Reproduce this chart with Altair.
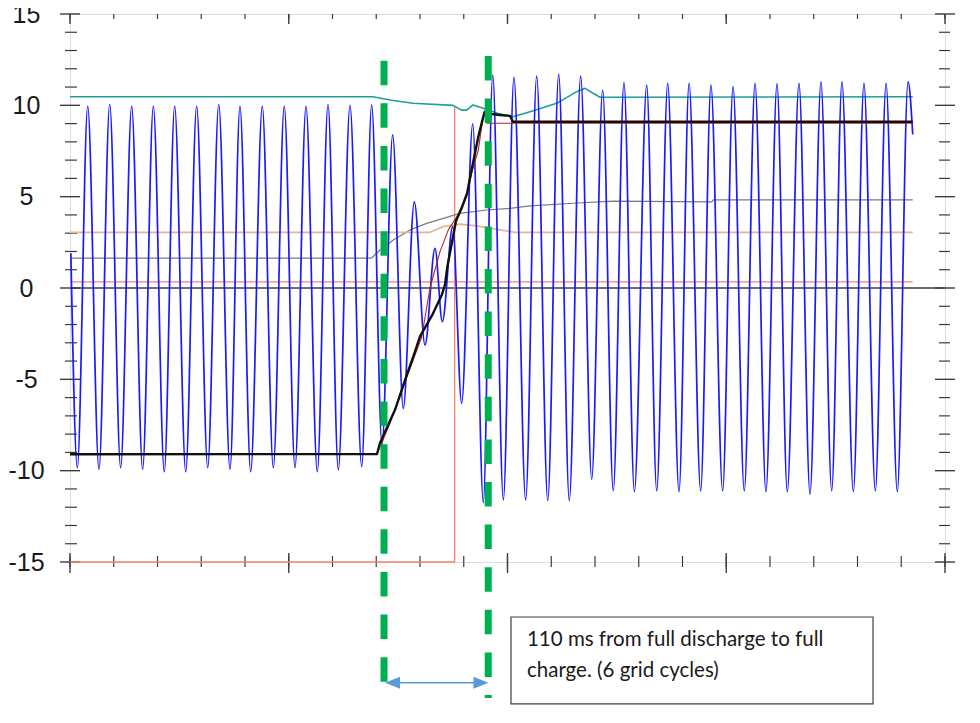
import altair as alt
import pandas as pd

# ---------------- data (time in ms, value in V) ----------------
BLUE_T = [0.8, 6.7, 16.2, 26.5, 36.3, 46.3, 56.4, 66.4, 76.2, 86.2, 95.7, 105.8, 115.8,
          125.9, 136.0, 146.3, 155.4, 165.2, 175.8, 185.9, 195.9, 205.7, 215.8, 226.1,
          235.9, 245.3, 256.0, 266.7, 275.8, 285.3, 295.0, 304.7, 314.8, 324.6, 333.7,
          340.4, 349.9, 358.1, 368.2, 377.9, 386.5, 396.2, 405.9, 416.6, 426.7, 436.8,
          446.8, 456.5, 466.9, 477.0, 487.0, 496.7, 506.5, 516.0, 527.3, 536.4, 546.5,
          556.8, 566.0, 576.6, 586.0, 596.7, 606.2, 616.5, 626.3, 636.3, 646.4, 655.8,
          666.5, 676.6, 686.6, 696.4, 705.8, 716.2, 725.9, 736.3, 746.1, 756.4, 766.2, 770.5]
BLUE_V = [1.9, -9.84, 9.96, -9.93, 10.06, -9.84, 9.96, -9.93, 9.96, -10.06, 9.96, -10.06, 9.96,
          -9.84, 10.06, -9.93, 9.96, -10.06, 9.96, -9.84, 9.96, -9.84, 9.96, -10.06,
          10.06, -9.96, 10.0, -9.78, 10.02, -8.6, 8.38, -6.59, 4.72, -3.12, 2.17,
          -1.84, 3.36, -6.31, 8.98, -11.75, 11.66, -11.6, 11.53, -11.6, 11.6, -11.64,
          11.7, -11.64, 11.6, -10.47, 10.84, -11.1, 11.24, -11.15, 11.11, -11.1, 11.2,
          -11.15, 11.2, -11.1, 11.11, -11.1, 11.02, -11.1, 11.2, -11.15, 11.17, -11.15,
          11.2, -11.28, 11.29, -11.1, 11.28, -11.15, 11.2, -11.1, 11.2, -11.15, 11.28, 8.4]

BLACK_T = [0, 280.7, 283.4, 288.0, 297.1, 306.3, 315.4, 320.0, 331.0, 340.1, 342.9, 345.0,
           352.9, 358.1, 363.0, 365.7, 373.3, 377.9, 379.4, 384.0, 393.1, 402.3, 405.0, 770.5]
BLACK_V = [-9.1, -9.09, -8.5, -7.87, -6.68, -5.04, -3.49, -2.65, -1.5, -0.35, 0.2, 1.17,
           3.67, 4.38, 5.18, 6.02, 8.28, 9.38, 9.65, 9.53, 9.47, 9.42, 9.1, 9.1]

RED_T = [0, 280.7, 292.6, 306.0, 321.6, 329.1, 338.3, 345.9, 353.6, 362.7, 367.3, 373.3,
         376.4, 378.5, 381.3, 770.5]
RED_V = [-9.1, -9.09, -7.4, -5.2, -2.67, 0.0, 1.99, 3.18, 3.9, 5.0, 6.3, 7.55,
         8.83, 9.65, 9.02, 9.02]

TEAL_T = [0, 277.0, 292.6, 313.6, 350.2, 358.1, 362.7, 368.5, 377.9, 391.3, 405.0, 420.6,
          445.0, 463.3, 470.9, 478.2, 484.6, 770.5]
TEAL_V = [10.47, 10.47, 10.29, 10.11, 10.0, 9.74, 9.74, 10.02, 9.84, 9.55, 9.38, 9.65,
          10.11, 10.75, 10.93, 10.66, 10.44, 10.47]

GRAY_T = [0, 275.8, 283.4, 295.6, 310.9, 326.1, 344.4, 356.6, 381.0, 402.3, 420.6, 459.9,
          496.5, 587.0, 587.9, 770.5]
GRAY_V = [1.64, 1.64, 2.08, 2.63, 3.18, 3.54, 3.87, 4.09, 4.27, 4.36, 4.5, 4.64,
          4.76, 4.72, 4.82, 4.82]

TAN_T = [0, 329.1, 341.3, 356.6, 371.8, 393.1, 406.9, 770.5]
TAN_V = [3.05, 3.05, 3.36, 3.5, 3.4, 3.18, 3.05, 3.05]

SALMON_FLAT_T = [0, 770.5]
SALMON_FLAT_V = [0.34, 0.34]
SALMON_STEP_T = [0, 351.7, 351.7]
SALMON_STEP_V = [-15, -15, 9.93]

# annotation (green markers, arrow, text box) in data coordinates
GREEN_T = [287.1, 382.4]
GREEN_TOP = [12.44, 12.70]
GREEN_BOTTOM = [-21.57, -22.45]
ARROW_T = [288.0, 382.6]
ARROW_V = -21.61
BOX_T = [403.2, 734.2]
BOX_V = [-18.01, -22.77]
NOTE_LINES = ["110 ms from full discharge to full", "charge. (6 grid cycles)"]
NOTE_T = 417.8
NOTE_V = [-19.6, -21.28]

# axis ticks
Y_LABELS = [-15, -10, -5, 0, 5, 10, 15]
Y_MINOR = [v for v in range(-15, 16) if v % 5 != 0]
X_MINOR = list(range(0, 801, 40))
X_MAJOR = [0, 200, 400, 600, 800]

# ---------------- chart ----------------
xs = alt.Scale(domain=[0, 800], nice=False, zero=False)
ys = alt.Scale(domain=[-15, 15], nice=False, zero=False)
yaxis = alt.Axis(values=Y_LABELS, labelFont="Liberation Sans", labelFontSize=25,
                 labelColor="#1a1a1a", labelAlign="center", labelPadding=44,
                 labelExpr="'' + datum.value",
                 tickSize=0, ticks=False, domain=False, grid=False, title=None,
                 labelOverlap=False)


def X(field="t"):
    return alt.X(f"{field}:Q", scale=xs, axis=None)


def Y(field="v"):
    return alt.Y(f"{field}:Q", scale=ys, axis=yaxis)


def series(ts, vs):
    return pd.DataFrame({"t": ts, "v": vs, "i": list(range(len(ts)))})


def line(ts, vs, color, width, interp="linear"):
    return alt.Chart(series(ts, vs)).mark_line(
        color=color, strokeWidth=width, interpolate=interp, strokeJoin="round"
    ).encode(x=X(), y=Y(), order="i:Q")


AX = "#3c3c3c"

zero_line = alt.Chart(pd.DataFrame({"v": [0]})).mark_rule(color=AX, strokeWidth=1.4).encode(y=Y())

ymaj = pd.DataFrame({"v": Y_LABELS})
ymin = pd.DataFrame({"v": Y_MINOR})
xmin = pd.DataFrame({"t": X_MINOR})
xmaj = pd.DataFrame({"t": X_MAJOR})

ticks = [
    alt.Chart(ymaj).mark_rule(color=AX, strokeWidth=1.4).encode(y=Y(), x=alt.value(-10), x2=alt.value(10)),
    alt.Chart(ymin).mark_rule(color=AX, strokeWidth=1.2).encode(y=Y(), x=alt.value(-5), x2=alt.value(7)),
    alt.Chart(ymaj).mark_rule(color=AX, strokeWidth=1.4).encode(y=Y(), x=alt.value(865), x2=alt.value(885)),
    alt.Chart(ymin).mark_rule(color=AX, strokeWidth=1.2).encode(y=Y(), x=alt.value(869), x2=alt.value(880)),
    alt.Chart(xmin).mark_rule(color=AX, strokeWidth=1.2).encode(x=X(), y=alt.value(0), y2=alt.value(5)),
    alt.Chart(xmaj).mark_rule(color=AX, strokeWidth=1.4).encode(x=X(), y=alt.value(0), y2=alt.value(10)),
    alt.Chart(xmin).mark_rule(color=AX, strokeWidth=1.2).encode(x=X(), y=alt.value(542), y2=alt.value(553)),
    alt.Chart(xmaj).mark_rule(color=AX, strokeWidth=1.4).encode(x=X(), y=alt.value(539), y2=alt.value(559)),
]

traces = [
    line(SALMON_FLAT_T, SALMON_FLAT_V, "#f7836f", 1.3),
    line(SALMON_STEP_T, SALMON_STEP_V, "#f7836f", 1.3),
    line(GRAY_T, GRAY_V, "#7a7a7a", 1.2),
    line(TAN_T, TAN_V, "#e8b688", 1.7),
    line(TEAL_T, TEAL_V, "#1f9e98", 1.6),
    line(BLUE_T, BLUE_V, "#1a1aff", 1.7, "monotone"),
    line(RED_T, RED_V, "#b8261e", 1.1),
    line(BLACK_T, BLACK_V, "#111111", 2.4),
]

green = alt.Chart(pd.DataFrame({"t": GREEN_T, "top": GREEN_TOP, "bottom": GREEN_BOTTOM})).mark_rule(
    color="#00b050", strokeWidth=7, strokeDash=[24.5, 18.1]
).encode(x=X(), y=Y("top"), y2="bottom:Q")

arrow_line = alt.Chart(pd.DataFrame({"t": [ARROW_T[0] + 6], "t2": [ARROW_T[1] - 6], "v": [ARROW_V]})).mark_rule(
    color="#5b9bd5", strokeWidth=1.6
).encode(x=X(), x2="t2:Q", y=Y())

head_l = alt.Chart(pd.DataFrame({"t": [ARROW_T[0] + 6.9], "v": [ARROW_V]})).mark_point(
    shape="M-1,0L1,-0.8L1,0.8Z", size=225, filled=True, opacity=1, color="#5b9bd5", strokeWidth=0
).encode(x=X(), y=Y())
head_r = alt.Chart(pd.DataFrame({"t": [ARROW_T[1] - 6.9], "v": [ARROW_V]})).mark_point(
    shape="M1,0L-1,-0.8L-1,0.8Z", size=225, filled=True, opacity=1, color="#5b9bd5", strokeWidth=0
).encode(x=X(), y=Y())

box = alt.Chart(pd.DataFrame({"t": [BOX_T[0]], "t2": [BOX_T[1]], "v": [BOX_V[0]], "v2": [BOX_V[1]]})).mark_rect(
    fill="white", stroke="#404040", strokeWidth=1.2
).encode(x=X(), x2="t2:Q", y=Y(), y2="v2:Q")

note = alt.Chart(pd.DataFrame({"t": [NOTE_T, NOTE_T], "v": NOTE_V, "txt": NOTE_LINES})).mark_text(
    align="left", baseline="alphabetic", font="Lato", fontSize=20.5, color="#1a1a1a"
).encode(x=X(), y=Y(), text="txt:N")

chart = alt.layer(
    zero_line, *ticks, *traces, green, box, note, arrow_line, head_l, head_r
).properties(
    width=875, height=548,
    autosize=alt.AutoSizeParams(type="none"),
    padding={"left": 62, "top": 6, "right": 27, "bottom": 150},
).configure_view(stroke=AX, strokeWidth=1.4).configure(background="white")

chart.save("out.html", embed_options={"renderer": "svg", "actions": False})
